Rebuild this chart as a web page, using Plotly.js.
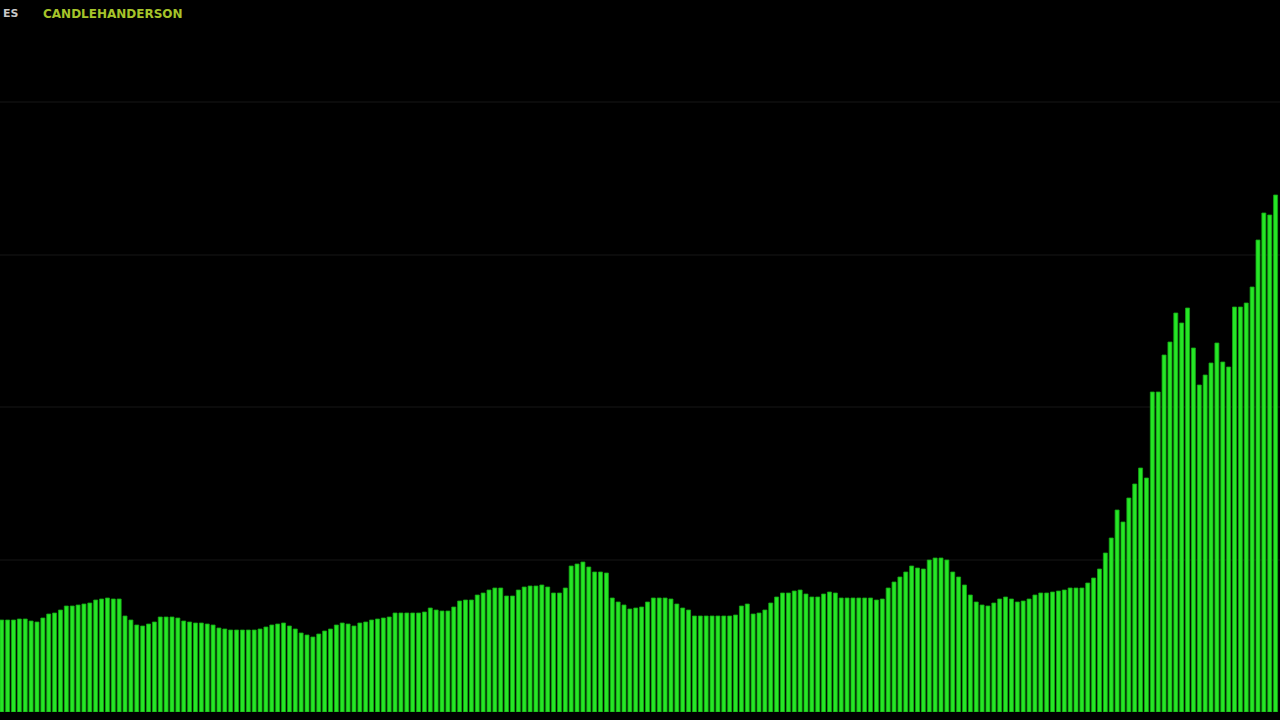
<!DOCTYPE html>
<html>
<head>
<meta charset="utf-8">
<script src="https://cdn.plot.ly/plotly-3.0.1.min.js"></script>
<style>
  html, body { margin: 0; padding: 0; background: #000; overflow: hidden; }
  #chart { width: 1280px; height: 720px; }
</style>
</head>
<body>
<div id="chart"></div>
<script>
// Bar heights (arbitrary volume units)
const volumes = [
  92, 92, 92, 93, 93, 91, 90, 94, 98, 99,
  102, 106, 106, 107, 108, 109, 112, 113, 114, 113,
  113, 96, 92, 87, 86, 88, 90, 95, 95, 95,
  94, 91, 90, 89, 89, 88, 87, 84, 83, 82,
  82, 82, 82, 82, 83, 85, 87, 88, 89, 86,
  83, 79, 77, 75, 78, 81, 83, 87, 89, 88,
  86, 89, 90, 92, 93, 94, 95, 99, 99, 99,
  99, 99, 100, 104, 102, 101, 101, 105, 111, 112,
  112, 117, 119, 122, 124, 124, 116, 116, 122, 125,
  126, 126, 127, 125, 119, 119, 124, 146, 148, 150,
  145, 140, 140, 139, 114, 110, 107, 103, 104, 105,
  110, 114, 114, 114, 113, 108, 104, 102, 96, 96,
  96, 96, 96, 96, 96, 97, 106, 108, 98, 99,
  102, 109, 115, 119, 119, 121, 122, 118, 115, 115,
  118, 120, 119, 114, 114, 114, 114, 114, 114, 112,
  113, 124, 130, 135, 140, 146, 144, 143, 152, 154,
  154, 152, 140, 135, 127, 117, 110, 107, 106, 109,
  113, 115, 113, 110, 111, 113, 117, 119, 119, 120,
  121, 122, 124, 124, 124, 129, 134, 143, 159, 174,
  202, 190, 214, 228, 244, 234, 320, 320, 357, 370,
  399, 389, 404, 364, 327, 337, 349, 369, 350, 345,
  405, 405, 409, 425, 472, 499, 497, 517
];
const barIndex = volumes.map((_, i) => i);
const symbolLabel = "ES";
const studyLabel = "CANDLEHANDERSON";

const trace = {
  type: 'bar',
  x: barIndex,
  y: volumes,
  marker: { color: '#26e626', line: { color: '#14a814', width: 0.8 } },
  hoverinfo: 'skip'
};

const layout = {
  width: 1280, height: 720,
  margin: { l: 0, r: 0, t: 0, b: 8, pad: 0 },
  paper_bgcolor: '#000', plot_bgcolor: '#000',
  bargap: 0.32,
  showlegend: false,
  xaxis: {
    range: [-0.3, 217.75], showgrid: false, zeroline: false,
    showticklabels: false, ticks: '', showline: false, fixedrange: true
  },
  yaxis: {
    range: [0, 712], tick0: 0, dtick: 152.5,
    showgrid: true, gridcolor: '#0b0b0b', gridwidth: 2,
    zeroline: false, showticklabels: false, ticks: '', showline: false, fixedrange: true
  },
  annotations: [
    { text: symbolLabel, xref: 'paper', yref: 'paper', x: 1 / 1280, y: (712 - 14) / 712,
      xanchor: 'left', yanchor: 'middle', showarrow: false,
      font: { family: 'DejaVu Sans', size: 11, color: '#c8c8c8', weight: 'bold' } },
    { text: studyLabel, xref: 'paper', yref: 'paper', x: 41 / 1280, y: (712 - 14) / 712,
      xanchor: 'left', yanchor: 'middle', showarrow: false,
      font: { family: 'DejaVu Sans', size: 12, color: '#a6c42a', weight: 'bold' } }
  ]
};

Plotly.newPlot('chart', [trace], layout, { displayModeBar: false, staticPlot: true });
</script>
</body>
</html>
